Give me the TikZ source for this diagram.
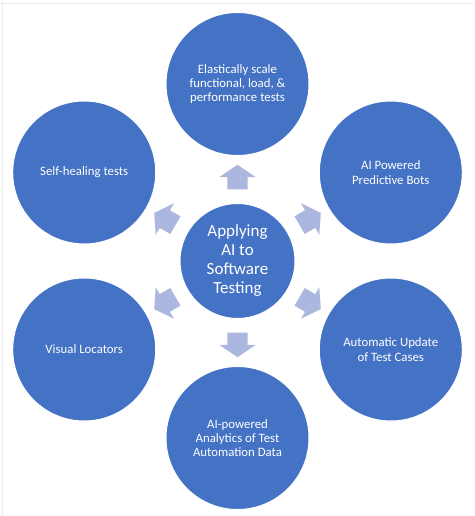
\documentclass[tikz,border=0pt]{standalone}
\usepackage{fontspec}
\setmainfont{Carlito}
\usepackage{tikz}
\usetikzlibrary{shapes.arrows}
\definecolor{hubblue}{RGB}{68,114,196}
\definecolor{arrowblue}{RGB}{171,183,222}

\begin{document}
\begin{tikzpicture}[x=1pt,y=1pt,
	hub/.style={circle,fill=hubblue,draw=white,line width=1pt,minimum size=115pt,inner sep=0pt,text=white,align=center,font=\fontsize{17}{19}\selectfont},
	spoke/.style={circle,fill=hubblue,draw=white,line width=1pt,minimum size=143pt,inner sep=0pt,text=white,align=center,font=\fontsize{12.8}{14.3}\selectfont},
	push/.style={single arrow,fill=arrowblue,draw=none,inner xsep=0pt,inner ysep=10pt,minimum height=24.5pt,single arrow head extend=8pt,single arrow tip angle=112}]

	\useasboundingbox (-237.5,-255) rectangle (236.5,261);

	% faint frame
	\draw[color=black!8] (-237.5,258) -- (236.5,258);
	\draw[color=black!8] (-235.5,261) -- (-235.5,-255);

	% centre

	\node[hub] (ai) at (0,0) {Applying\\AI to\\Software\\Testing};

	% outer circles

	\node[spoke] (scale) at (90:177) {Elastically scale\\functional, load, \&\\performance tests};
	\node[spoke] (bots) at (30:177) {AI Powered\\Predictive Bots};
	\node[spoke] (update) at (-30:177) {Automatic Update\\of Test Cases};
	\node[spoke] (analytics) at (-90:177) {AI-powered\\Analytics of Test\\Automation Data};
	\node[spoke] (locators) at (210:177) {Visual Locators};
	\node[spoke] (healing) at (150:177) {Self-healing tests};

	% block arrows

	\node[push,rotate=90] (toScale) at (90:80.5) {};
	\node[push,rotate=30] (toBots) at (30:80.5) {};
	\node[push,rotate=-30] (toUpdate) at (-30:80.5) {};
	\node[push,rotate=-90] (toAnalytics) at (-90:80.5) {};
	\node[push,rotate=210] (toLocators) at (210:80.5) {};
	\node[push,rotate=150] (toHealing) at (150:80.5) {};
\end{tikzpicture}
\end{document}
